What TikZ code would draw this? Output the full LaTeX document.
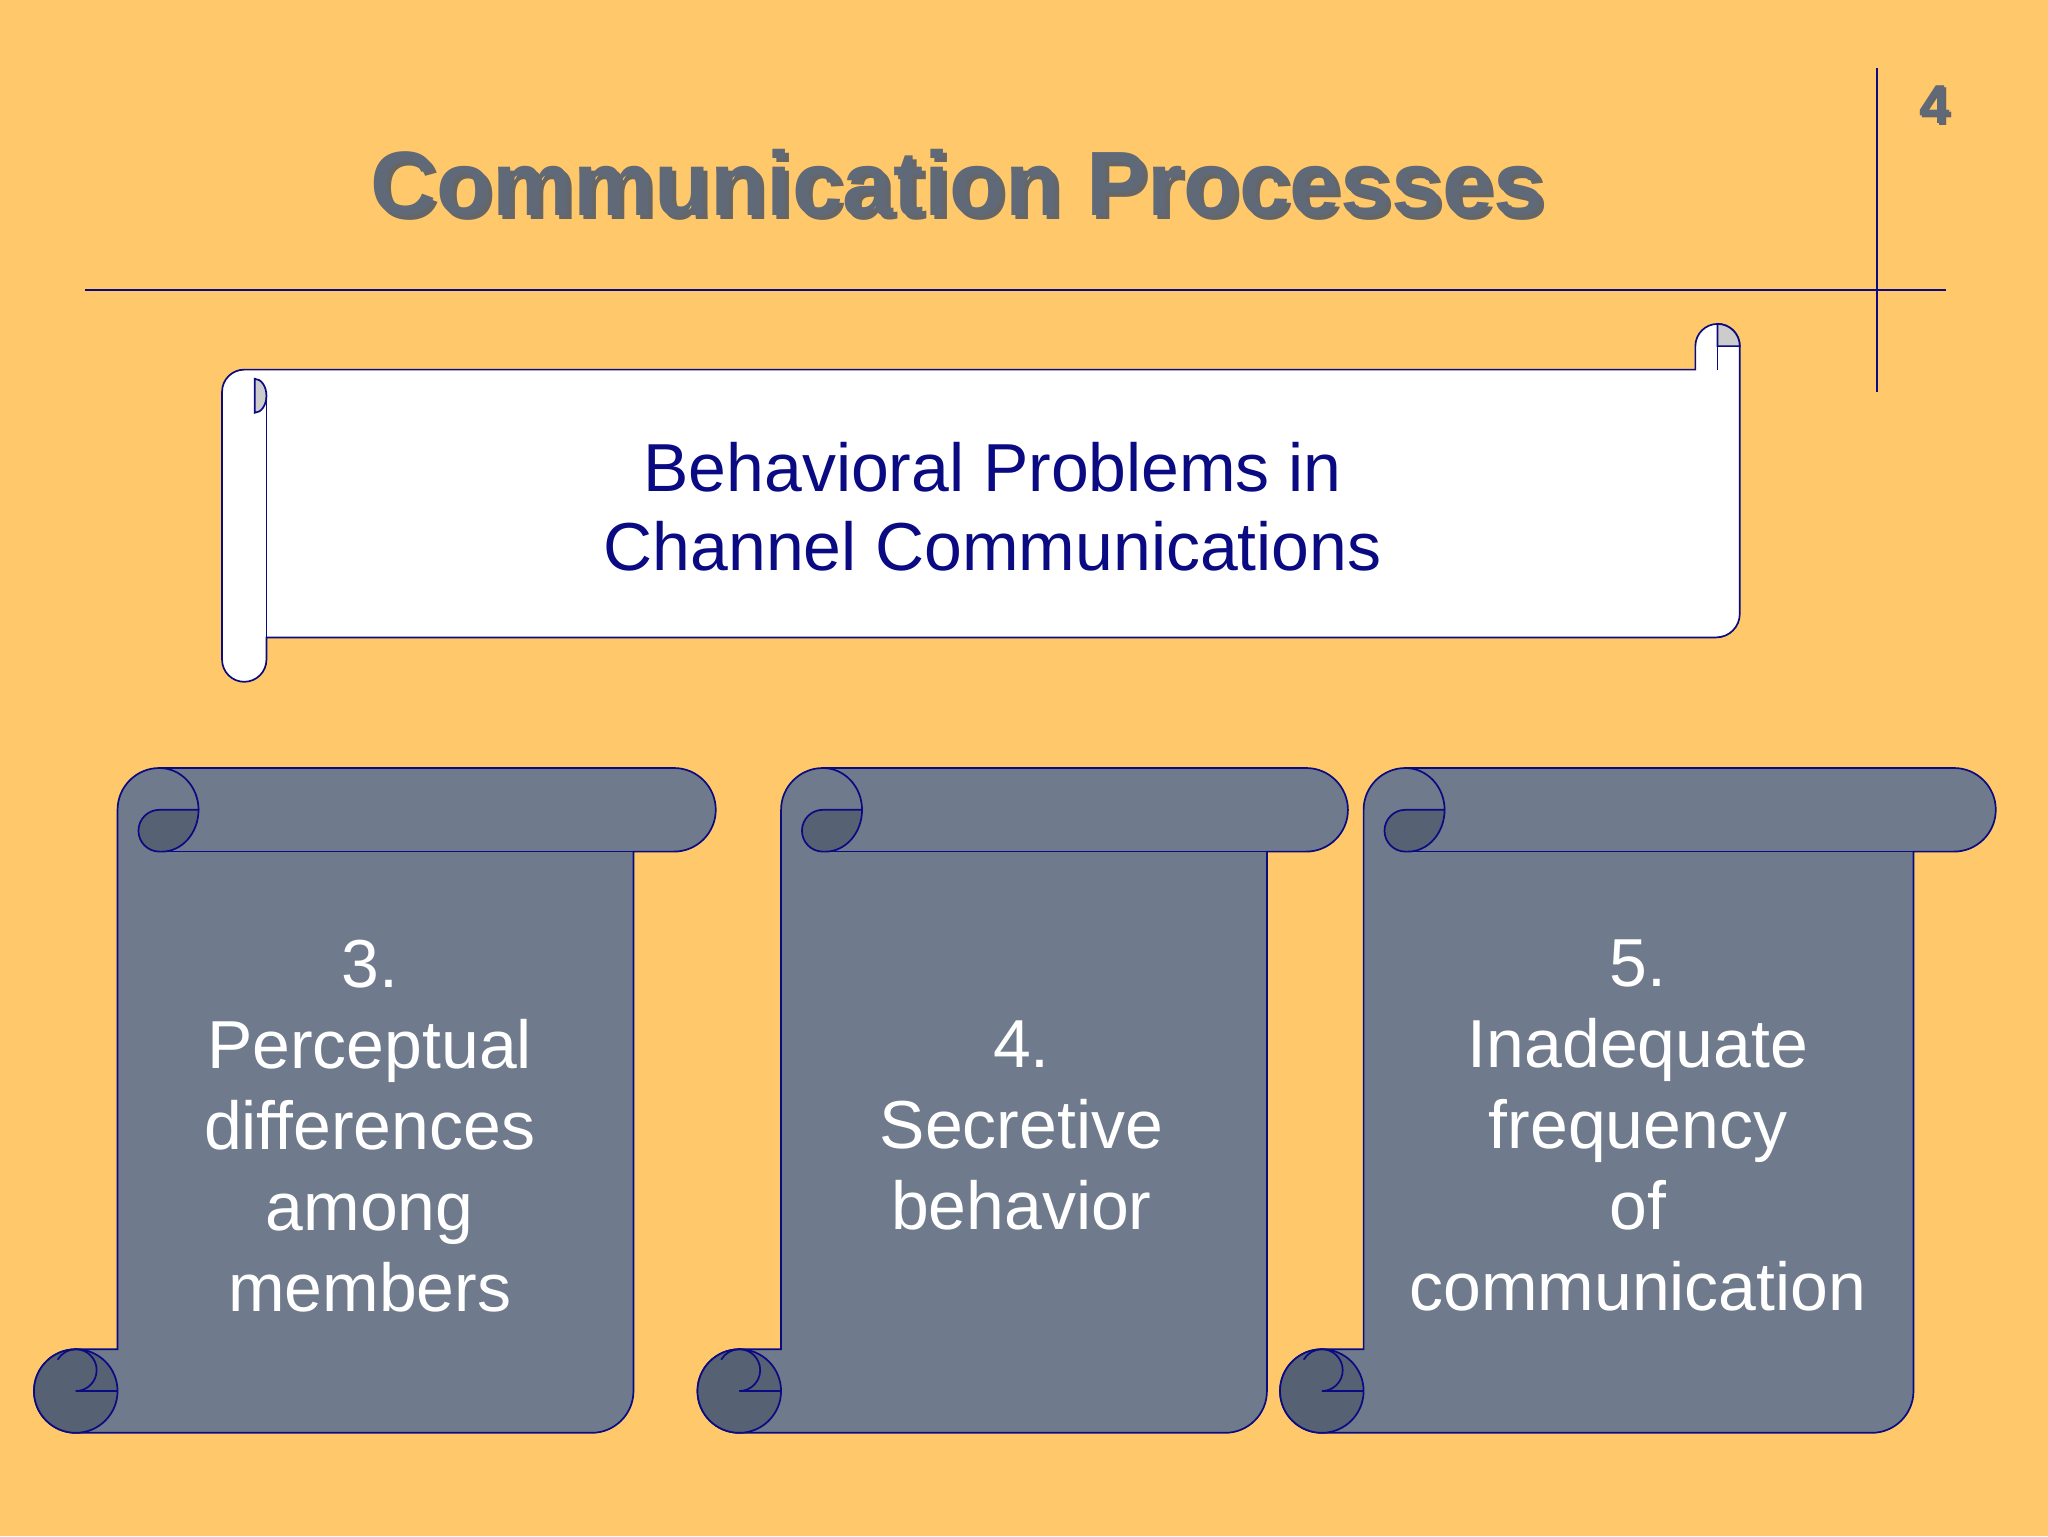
\documentclass[tikz,border=0pt]{standalone}
\usepackage{fontspec}
\setmainfont{Liberation Sans}
\definecolor{bg}{RGB}{255,201,107}
\definecolor{navy}{RGB}{10,10,130}
\definecolor{slate}{RGB}{111,122,140}
\definecolor{dslate}{RGB}{86,97,115}
\definecolor{ttl}{RGB}{95,105,120}
\begin{document}
\begin{tikzpicture}[x=1pt,y=-1pt,
  edge/.style={draw=navy,line width=1.3pt},
  scrolltxt/.style={text=white,align=center,font=\fontsize{52}{62}\selectfont}]
\fill[bg] (0,0) rectangle (1568,1176);
\useasboundingbox (0,0) rectangle (1568,1176);
% title
\node[text=black!60,font=\fontsize{70}{80}\selectfont\bfseries] at (736,143) {Communication Processes};
\node (title) [text=ttl,font=\fontsize{70}{80}\selectfont\bfseries] at (733,140) {Communication Processes};
\node[text=black!60,font=\fontsize{42}{48}\selectfont\bfseries] at (1483,82) {4};
\node (num) [text=ttl,font=\fontsize{42}{48}\selectfont\bfseries] at (1481,80) {4};
\draw[navy,line width=1.3pt] (65,222) -- (1490,222);
\draw[navy,line width=1.3pt] (1437,52) -- (1437,300);
% horizontal scroll
\path[edge,fill=white] (187,283) -- (1298,283) -- (1298,265) arc[start angle=180,end angle=360,radius=17] -- (1332,470) arc[start angle=0,end angle=90,radius=18] -- (204,488) -- (204,505) arc[start angle=0,end angle=180,radius=17] -- (170,300) arc[start angle=180,end angle=270,radius=17] -- cycle;
\draw[edge] (204,300) -- (204,488);
\path[edge,fill=black!20] (195,290) arc[start angle=-90,end angle=90,x radius=9,y radius=13] -- (195,316) -- cycle;
\path[edge,fill=black!20] (1315,248) arc[start angle=270,end angle=360,radius=17] -- (1315,265) -- cycle;
\draw[edge] (1298,265) -- (1298,283) (1315,265) -- (1315,283);
\node (banner) [text=navy,align=center,font=\fontsize{52}{61}\selectfont] at (760,388) {Behavioral Problems in\\Channel Communications};
% vertical scrolls
\foreach \L/\R/\RR/\n in {90/485/548/a,598/970/1032/b,1044/1465/1528/c}{
  \path[edge,fill=slate] (\L+32,588) -- (\RR-32,588) arc[start angle=-90,end angle=90,radius=32] -- (\R,652) -- (\R,1065) arc[start angle=0,end angle=90,radius=32] -- (\L-32,1097) arc[start angle=90,end angle=270,radius=32] -- (\L,1033) -- (\L,620) arc[start angle=180,end angle=270,radius=32] -- cycle;
  \draw[edge] (\L+32,652) -- (\RR-32,652);
  \path[edge,fill=dslate] (\L+62,620) -- (\L+32,620) arc[start angle=-90,end angle=-270,radius=16] -- (\L+34,652) arc[start angle=90,end angle=0,x radius=28,y radius=32] -- cycle;
  \draw[edge] (\L+32,588) arc[start angle=-90,end angle=0,x radius=30,y radius=32];
  \path[edge,fill=dslate] (\L-32,1065) circle[radius=32];
  \draw[edge] (\L,1065) -- (\L-32,1065) arc[start angle=90,end angle=-150,radius=16];
}
\node (s3) [scrolltxt] at (283,862) {3.\\Perceptual\\differences\\among\\members};
\node (s4) [scrolltxt] at (782,862) {4.\\Secretive\\behavior};
\node (s5) [scrolltxt] at (1254,862) {5.\\Inadequate\\frequency\\of\\communication};
\end{tikzpicture}
\end{document}
